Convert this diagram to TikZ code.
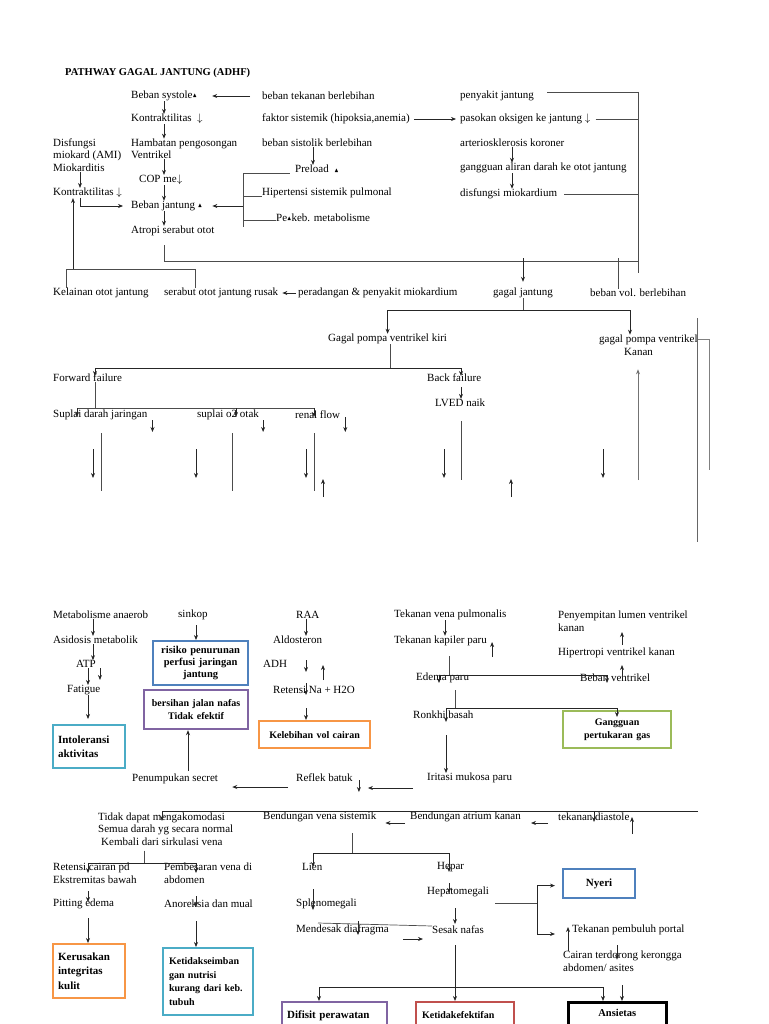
\documentclass[tikz,border=0pt]{standalone}
\usepackage{amsmath,amssymb}
\usepackage{graphicx}
\usepackage{fontspec}
\setmainfont{Liberation Serif}
\usetikzlibrary{arrows.meta,positioning,calc}

\newcommand{\segitiga}{\raisebox{0.15ex}{\scalebox{0.55}{$\blacktriangle$}}}
\newcommand{\turun}{$\downarrow$}

\definecolor{kotakbiru}{HTML}{4F81BD}
\definecolor{kotakaqua}{HTML}{4BACC6}
\definecolor{kotakungu}{HTML}{8064A2}
\definecolor{kotakjingga}{HTML}{F79646}
\definecolor{kotakhijau}{HTML}{9BBB59}
\definecolor{kotakmerah}{HTML}{C0504D}

\begin{document}
\begin{tikzpicture}[x=1pt,y=-1pt,
  txt/.style={anchor=west,inner sep=0pt,align=left,font=\fontsize{11}{12.5}\selectfont},
  kotak/.style={draw,line width=2.2pt,anchor=north west,inner sep=0pt,font=\bfseries\fontsize{10}{13.5}\selectfont},
  besar/.style={font=\bfseries\fontsize{11}{14.5}\selectfont},
  garis/.style={line width=0.7pt,black!70},
  panah/.style={line width=0.7pt,black!85,-{Stealth[length=5pt,width=4pt]}}]
\useasboundingbox (0,0) rectangle (768,1024);
\clip (0,0) rectangle (768,1024);

\node[anchor=west,inner sep=0pt,font=\bfseries\fontsize{10.5}{12}\selectfont] (judul) at (65,73) {PATHWAY GAGAL JANTUNG (ADHF)};

\node[txt] (bsys) at (131,96) {Beban systole\segitiga};
\node[txt] (kon1) at (131,119) {Kontraktilitas~~\turun};
\node[txt] (hamb) at (131,149) {Hambatan pengosongan\\Ventrikel};
\node[txt] (cop) at (139,180) {COP me\turun};
\node[txt] (bjan) at (131,206) {Beban jantung~\segitiga};
\node[txt] (atro) at (131,231) {Atropi serabut otot};
\node[txt] (disf) at (53,155) {Disfungsi\\miokard (AMI)\\Miokarditis};
\node[txt] (kon2) at (53,193) {Kontraktilitas~\turun};

\node[txt] (btek) at (262,96) {beban tekanan berlebihan};
\node[txt] (fsis) at (262,119) {faktor sistemik (hipoksia,anemia)};
\node[txt] (bsis) at (262,143) {beban sistolik berlebihan};
\node[txt] (prel) at (295,169) {Preload~~\segitiga};
\node[txt] (hip) at (262,193) {Hipertensi sistemik pulmonal};
\node[txt] (peb) at (276,218) {Pe\segitiga keb. metabolisme};

\node[txt] (pjan) at (460,96) {penyakit jantung};
\node[txt] (pas) at (460,119) {pasokan oksigen ke jantung~\turun};
\node[txt] (art) at (460,143) {arteriosklerosis koroner};
\node[txt] (gang) at (460,168) {gangguan aliran darah ke otot jantung};
\node[txt] (dmio) at (460,194) {disfungsi miokardium};

\node[txt] (kel) at (53,293) {Kelainan otot jantung};
\node[txt] (ser) at (164,293) {serabut otot jantung rusak};
\node[txt] (per) at (298,293) {peradangan \& penyakit miokardium};
\node[txt] (gj) at (493,293) {gagal jantung};
\node[txt] (bvol) at (590,293) {beban vol. berlebihan};

\coordinate (xa) at (164,0);
\coordinate (xl) at (80,0);
\coordinate (xb) at (313,0);
\coordinate (xc) at (512,0);
\path[panah]
  (bsys.south -| xa) edge (kon1.north -| xa)
  (kon1.south -| xa) edge (hamb.north -| xa)
  (hamb.south -| xa) edge (cop.north -| xa)
  (cop.south -| xa) edge (bjan.north -| xa)
  (bjan.south -| xa) edge (atro.north -| xa)
  (disf.south -| xl) edge (kon2.north -| xl)
  (bsis.south -| xb) edge (prel.north -| xb)
  (art.south -| xc) edge (gang.north -| xc)
  (gang.south -| xc) edge (dmio.north -| xc);
\draw[panah,shorten <=12pt,shorten >=15pt] (btek.west) -- (bsys.east);
\draw[panah,shorten <=4pt,shorten >=4pt] (fsis.east) -- (pas.west);
\draw[panah,shorten >=8pt] (kon2.south -| xl) |- (bjan.west);

\coordinate (kbl) at (66,269);
\coordinate (kbr) at (195,269);
\coordinate (kup) at (73,269);
\draw[garis] (kel.north -| kbl) -- (kbl) -- (kbr) -- (ser.north -| kbr);
\draw[panah] (kup) -- (kon2.south -| kup);
\draw[panah,shorten <=2pt,shorten >=4pt] (per.west) -- (ser.east);

\coordinate (pb) at (243,173);
\coordinate (pbb) at (243,227);
\draw[garis,shorten >=5pt] (pbb) -- (pb) -- (prel.west |- pb);
\draw[garis] ($(hip.west -| pb)+(0,3)$) -- ($(hip.west)+(0,3)$);
\draw[garis] ($(peb.west -| pb)+(0,2)$) -- ($(peb.west)+(0,2)$);
\draw[panah,shorten >=10pt] (bjan.east -| pb) -- (bjan.east);

\coordinate (rt) at (638,92);
\coordinate (rbawah) at (638,273);
\coordinate (hl) at (638,261);
\draw[garis] (rt) -- (rbawah);
\draw[garis,shorten <=13pt] ($(pjan.east)+(0,-4)$) -- (rt);
\draw[garis,shorten <=5pt] (pas.east) -- (pas.east -| rt);
\draw[garis,shorten <=7pt] (dmio.east) -- (dmio.east -| rt);
\draw[garis,shorten <=9pt] (atro.south -| xa) |- (hl);
\coordinate (gjt) at (523,258);
\draw[panah,shorten >=6pt] (gjt) -- (gj.north -| gjt);
\coordinate (bvt) at (618,258);
\draw[garis] (bvol.north -| bvt) -- (bvt);

\node[txt] (gpki) at (328,339) {Gagal pompa ventrikel kiri};
\node[txt] (gpka) at (599,345) {gagal pompa ventrikel\\\hspace*{25pt}Kanan};
\node[txt] (ff) at (53,378) {Forward failure};
\node[txt] (bf) at (427,378) {Back failure};
\node[txt] (lved) at (435,403) {LVED naik};
\node[txt] (sdj) at (53,415) {Suplai darah jaringan};
\node[txt] (so2) at (197,415) {suplai o2 otak};
\node[txt] (rf) at (295,415) {renal flow};

\coordinate (gjb) at (523,310);
\draw[garis] (gj.south -| gjb) -- (gjb);
\draw[panah] (gjb) -| (gpki.north);
\draw[panah] (gjb) -| ($(gpka.north west)+(31,0)$);
\coordinate (kb2) at (390,368);
\draw[garis] (gpki.south -| kb2) -- (kb2);
\draw[panah] (kb2) -| ($(ff.west)+(42,-2)$);
\draw[panah] (kb2) -| ($(bf.west)+(34,-2)$);
\draw[panah,shorten <=5pt] ($(bf.south west)+(34,0)$) -- ($(lved.north west)+(26,0)$);

\coordinate (fb) at (95,408);
\coordinate (fbl) at (77,408);
\coordinate (fbm) at (236,408);
\coordinate (fbr) at (314,408);
\draw[garis] ($(ff.south west)+(42,0)$) -- (fb);
\draw[garis] (fbl) -- (fbr);
\foreach \k in {fbl,fbm,fbr}
  \draw[panah] (\k) -- ++(0,9);
\draw[panah] ($(sdj.east)+(5,5)$) -- ++(0,12);
\draw[panah] ($(so2.east)+(4,5)$) -- ++(0,12);
\draw[panah] ($(rf.east)+(5,2)$) -- ++(0,15);

\foreach \x [count=\i] in {93,196,306,444,603} {
  \coordinate (turun\i) at (\x,449);
  \draw[panah] (turun\i) -- ++(0,29);
}
\foreach \x/\a/\b [count=\i] in {101/433/491,232/433/491,314/433/491,461/421/480} {
  \coordinate (gt\i) at (\x,\a);
  \draw[garis] (gt\i) -- ++(0,{\b-\a});
}
\foreach \x [count=\i] in {323,511} {
  \coordinate (naik\i) at (\x,497);
  \draw[panah] (naik\i) -- ++(0,-18);
}
\coordinate (ka) at (638,480);
\draw[panah,black!55,shorten >=14pt] (ka) -- ($(gpka.south west)+(39,0)$);
\coordinate (kr) at (709,470);
\draw[garis,black!50] ($(gpka.east)+(0,-6)$) -| (kr);
\coordinate (vt) at (697,318);
\draw[garis,black!60] (vt) -- ++(0,224);

\node[txt] (ma) at (53,615) {Metabolisme anaerob};
\node[txt] (am) at (53,640) {Asidosis metabolik};
\node[txt] (atp) at (76,664) {ATP};
\node[txt] (fat) at (67,690) {Fatigue};
\node[kotak,besar,draw=kotakaqua,align=left,text width=62pt,minimum width=72pt,minimum height=43pt] (intol) at (52,724) {Intoleransi\\aktivitas};
\node[txt] (sink) at (178,615) {sinkop};
\node[kotak,draw=kotakbiru,align=center,text width=87pt,minimum width=95pt,minimum height=44pt,font=\bfseries\fontsize{10.5}{12}\selectfont] (risk) at (152,640) {risiko penurunan\\perfusi jaringan\\jantung};
\node[kotak,draw=kotakungu,align=center,text width=98pt,minimum width=104pt,minimum height=39pt] (bers) at (143,689) {bersihan jalan nafas\\Tidak efektif};
\node[txt] (ps) at (132,779) {Penumpukan secret};
\node[txt] (rb) at (296,778) {Reflek batuk};
\node[txt] (raa) at (296,615) {RAA};
\node[txt] (ald) at (273,640) {Aldosteron};
\node[txt] (adh) at (263,664) {ADH};
\node[txt] (ret) at (273,690) {Retensi Na + H2O};
\node[kotak,draw=kotakjingga,align=center,text width=99pt,minimum width=111pt,minimum height=27pt] (kvc) at (258,720) {Kelebihan vol cairan};
\node[txt] (tvp) at (394,615) {Tekanan vena pulmonalis};
\node[txt] (tkp) at (394,641) {Tekanan kapiler paru};
\node[txt] (plv) at (558,621) {Penyempitan lumen ventrikel\\kanan};
\node[txt] (hvk) at (558,653) {Hipertropi ventrikel kanan};
\node[txt] (ep) at (416,678) {Edema paru};
\node[txt] (bv) at (580,678) {Beban ventrikel};
\node[txt] (rk) at (413,715) {Ronkhi basah};
\node[kotak,draw=kotakhijau,align=center,text width=96pt,minimum width=108pt,minimum height=37pt] (gpg) at (562,710) {Gangguan\\pertukaran gas};
\node[txt] (imp) at (427,778) {Iritasi mukosa paru};

\coordinate (xm) at (93,0);
\coordinate (xf) at (88,0);
\coordinate (xs) at (196,0);
\coordinate (xp) at (188,0);
\coordinate (xr) at (306,0);
\coordinate (xt) at (445,0);
\path[panah]
  (ma.south -| xm) edge (am.north -| xm)
  (am.south -| xm) edge (atp.north -| xm)
  (atp.south -| xf) edge (fat.north -| xf)
  (fat.south -| xf) edge[shorten >=5pt] (intol.north -| xf)
  (sink.south -| xs) edge[shorten <=5pt] (risk.north -| xs)
  (ps.north -| xp) edge[shorten <=3pt] (bers.south -| xp)
  (raa.south -| xr) edge (ald.north -| xr)
  (tvp.south -| xt) edge (tkp.north -| xt);
\draw[panah] ($(atp.east)+(4,4)$) -- ++(0,12);
\draw[panah,shorten <=8pt,shorten >=14pt] ($(rb.west)+(0,9)$) -- ($(ps.east)+(0,8)$);
\draw[panah] ($(rb.east)+(6,2)$) -- ++(0,12);
\draw[panah,shorten <=14pt,shorten >=15pt] ($(imp.west)+(0,10)$) -- ($(rb.east)+(0,10)$);
\draw[panah] ($(ald.west -| xr)+(0,20)$) -- ++(0,12);
\draw[panah] ($(ret.west)+(50,-10)$) -- ++(0,-15);
\draw[panah] ($(ret.west -| xr)+(0,-7)$) -- ++(0,12);
\draw[panah] ($(ret.west -| xr)+(0,18)$) -- (kvc.north -| xr);
\draw[panah] ($(tkp.east)+(5,16)$) -- ++(0,-15);

\coordinate (eb) at (449,675);
\draw[garis,shorten <=10pt] (tkp.south -| eb) -- (eb);
\draw[panah] (eb) -| ($(ep.west)+(23,5)$);
\draw[panah] (eb) -| ($(bv.west)+(27,5)$);
\draw[panah] ($(bv.west)+(42,-1)$) -- ($(hvk.west)+(64,12)$);
\draw[panah] ($(hvk.west)+(64,-8)$) -- ($(plv.west)+(64,11)$);
\coordinate (rbk) at (455,708);
\draw[garis] ($(ep.west -| rbk)+(0,12)$) -- (rbk);
\draw[panah] (rbk) -| ($(rk.west)+(33,7)$);
\draw[panah] (rbk) -| ($(gpg.north west)+(55,7)$);
\draw[panah] ($(rk.west)+(33,20)$) -- ($(imp.west)+(19,-5)$);

\node[txt] (tdm) at (98,829) {Tidak dapat mengakomodasi\\Semua darah yg secara normal\\\hspace*{3pt}Kembali dari sirkulasi vena};
\node[txt] (bvs) at (263,817) {Bendungan vena sistemik};
\node[txt] (bak) at (410,817) {Bendungan atrium kanan};
\node[txt] (tdia) at (558,817) {tekanan diastole};
\node[txt] (rcp) at (53,873) {Retensi cairan pd\\Ekstremitas bawah};
\node[txt] (pvd) at (164,873) {Pembesaran vena di\\abdomen};
\node[txt] (pe) at (53,904) {Pitting edema};
\node[txt] (adm) at (164,904) {Anoreksia dan mual};
\node[kotak,besar,draw=kotakjingga,align=left,text width=62pt,minimum width=72pt,minimum height=54pt] (kik) at (52,943) {Kerusakan\\integritas\\kulit};
\node[kotak,draw=kotakaqua,align=left,text width=78pt,minimum width=90pt,minimum height=67pt] (kgn) at (162,947) {Ketidakseimban\\gan nutrisi\\kurang dari keb.\\tubuh};
\node[txt] (lien) at (302,867) {Lien};
\node[txt] (hep) at (437,867) {Hepar};
\node[txt] (spl) at (296,904) {Splenomegali};
\node[txt] (hpm) at (427,892) {Hepatomegali};
\node[txt] (mdf) at (296,930) {Mendesak diafragma};
\node[txt] (sn) at (432,930) {Sesak nafas};
\node[kotak,besar,draw=kotakbiru,align=center,text width=60pt,minimum width=72pt,minimum height=29pt] (nyeri) at (562,868) {Nyeri};
\node[txt] (tpp) at (572,930) {Tekanan pembuluh portal};
\node[txt] (ctk) at (563,961) {Cairan terdorong kerongga\\abdomen/ asites};
\node[kotak,besar,draw=kotakungu,align=left,text width=95pt,minimum width=105pt,minimum height=40pt,font=\bfseries\fontsize{11}{15}\selectfont] (dpd) at (281,1001) {Difisit perawatan\\diri};
\node[kotak,draw=kotakmerah,align=left,text width=86pt,minimum width=98pt,minimum height=40pt,font=\bfseries\fontsize{10}{15}\selectfont] (kpn) at (415,1001) {Ketidakefektifan\\Pola nafas};
\node[kotak,draw=black,line width=2.6pt,align=center,text width=86pt,minimum width=98pt,minimum height=40pt,font=\bfseries\fontsize{10.5}{15}\selectfont] (ans) at (567,1001) {Ansietas\\\strut};

\coordinate (tl) at (698,811);
\draw[panah] (tl) -| ($(tdm.west)+(64,-8)$);
\draw[panah] ($(tdia.west |- tl)+(36,0)$) -- ($(tdia.west)+(36,5)$);
\draw[panah] ($(tdia.west)+(74,17)$) -- ++(0,-17);
\draw[panah,shorten <=10pt,shorten >=10pt] ($(tdia.west)+(0,6)$) -- ($(bak.east)+(0,6)$);
\draw[panah,shorten <=5pt,shorten >=9pt] ($(bak.west)+(0,6)$) -- ($(bvs.east)+(0,6)$);

\coordinate (tb) at (144,863);
\draw[garis,shorten <=5pt] (tdm.south -| tb) -- (tb);
\draw[panah] (tb) -| ($(rcp.west)+(35,0)$);
\draw[panah] (tb) -| ($(pvd.west)+(32,0)$);
\draw[panah] ($(rcp.west)+(35,18)$) -- ($(pe.west)+(35,-2)$);
\draw[panah] ($(pvd.west)+(32,23)$) -- ($(adm.west)+(32,3)$);
\draw[panah] ($(pe.west)+(35,14)$) -- ($(kik.north west)+(36,0)$);
\draw[panah] ($(adm.west)+(32,17)$) -- ($(kgn.north west)+(34,0)$);

\coordinate (lb) at (352,853);
\draw[garis] ($(bvs.west -| lb)+(0,16)$) -- (lb);
\draw[panah] (lb) -| ($(lien.west)+(11,0)$);
\draw[panah] (lb) -| ($(hep.west)+(12,5)$);
\draw[panah] ($(lien.west)+(11,22)$) -- ($(spl.west)+(17,6)$);
\draw[panah] ($(hep.west)+(12,16)$) -- ($(hpm.west)+(22,1)$);
\draw[panah] ($(hpm.west)+(28,16)$) -- ($(sn.west)+(23,-6)$);
\draw[garis] ($(mdf.west)+(22,-7)$) -- ($(sn.west)+(0,-4)$);
\draw[panah] ($(mdf.west)+(62,-9)$) -- ++(0,14);
\draw[panah,shorten <=14pt,shorten >=9pt] ($(mdf.east)+(0,9)$) -- ($(sn.west)+(0,9)$);

\coordinate (nb) at (537,903);
\draw[garis] ($(hpm.east)+(6,11)$) -- (nb);
\draw[panah] (nb) |- ($(nyeri.west)+(-7,2)$);
\draw[panah] (nb) |- ($(tpp.west)+(-17,4)$);
\draw[panah] ($(ctk.north west)+(5,0)$) -- ($(tpp.west)+(-4,-3)$);
\draw[panah] ($(tpp.west)+(45,15)$) -- ($(ctk.north west)+(54,9)$);
\draw[panah] ($(sn.west)+(23,15)$) -- ($(kpn.north west)+(40,0)$);
\coordinate (ab) at (455,987);
\draw[panah] (ab) -| ($(dpd.north west)+(38,0)$);
\draw[panah] (ab) -| ($(ans.north west)+(36,0)$);
\draw[panah] ($(ctk.south west)+(59,14)$) -- ($(ans.north west)+(55,0)$);
\end{tikzpicture}
\end{document}
